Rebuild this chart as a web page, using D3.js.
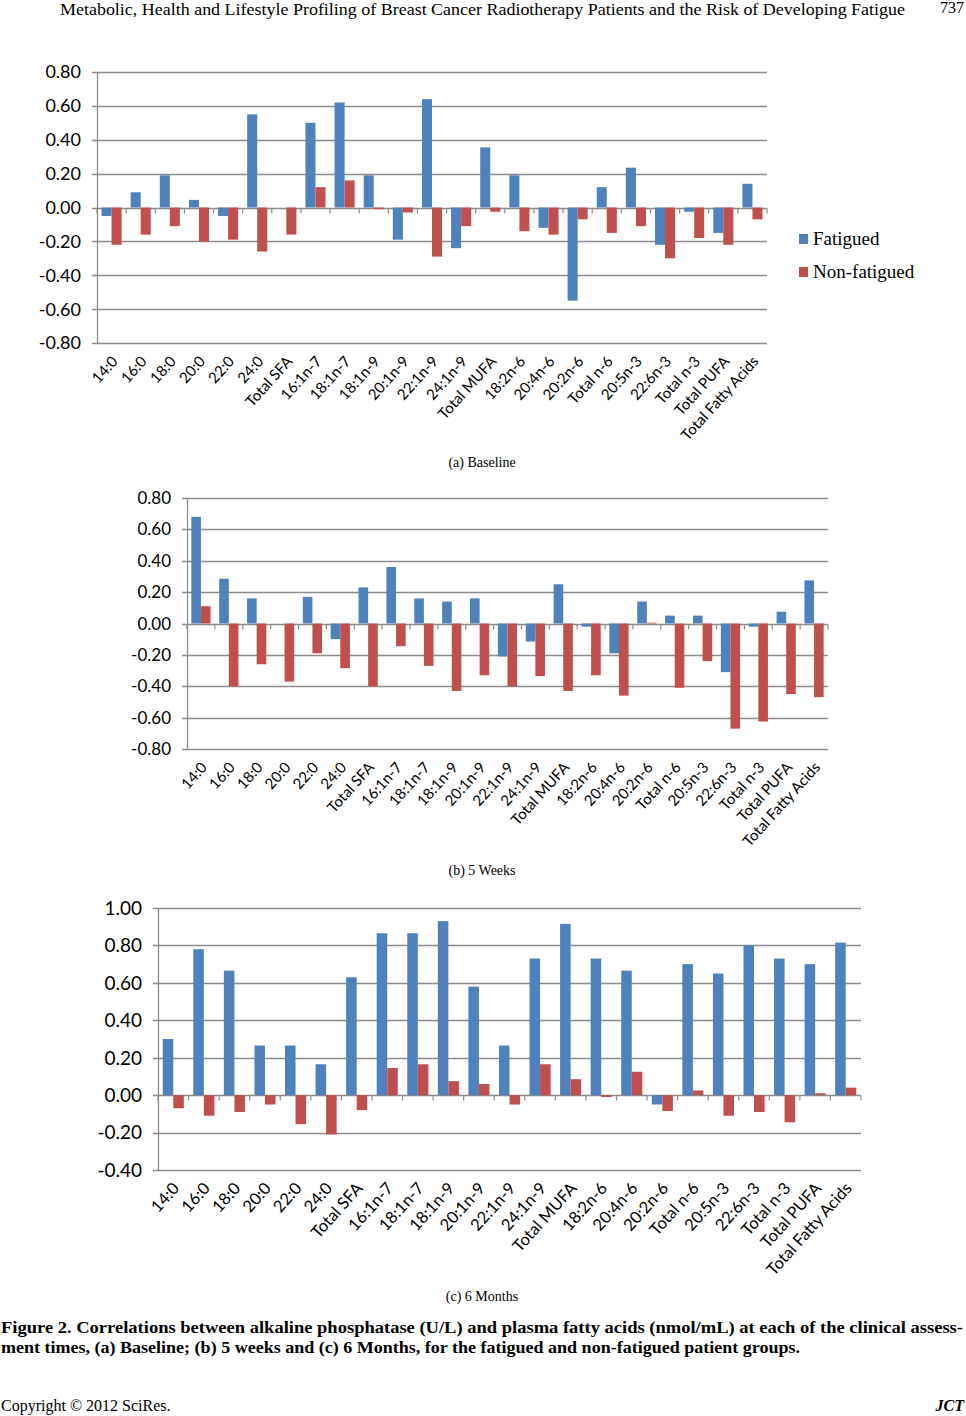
<!DOCTYPE html>
<html>
<head>
<meta charset="utf-8">
<script src="https://cdn.jsdelivr.net/npm/d3@7"></script>
<style>
  body { margin: 0; background: #fff; }
  svg { display: block; }
</style>
</head>
<body>
<svg id="page" width="966" height="1416"></svg>
<script>
// Fatty acid categories (same for all three panels)
const categories = ["14:0", "16:0", "18:0", "20:0", "22:0", "24:0", "Total SFA",
  "16:1n-7", "18:1n-7", "18:1n-9", "20:1n-9", "22:1n-9", "24:1n-9", "Total MUFA",
  "18:2n-6", "20:4n-6", "20:2n-6", "Total n-6", "20:5n-3", "22:6n-3", "Total n-3",
  "Total PUFA", "Total Fatty Acids"];

// (a) Baseline
const baselineFatigued = [-0.05, 0.09, 0.19, 0.045, -0.05, 0.55, 0, 0.50, 0.62, 0.19, -0.19, 0.64,
  -0.24, 0.355, 0.19, -0.12, -0.55, 0.12, 0.235, -0.22, -0.025, -0.15, 0.14];
const baselineNonFatigued = [-0.22, -0.16, -0.11, -0.20, -0.19, -0.26, -0.16, 0.12, 0.16, -0.01, -0.03, -0.29,
  -0.11, -0.025, -0.14, -0.16, -0.07, -0.15, -0.11, -0.30, -0.18, -0.22, -0.07];

// (b) 5 Weeks
const weeks5Fatigued = [0.68, 0.285, 0.16, 0, 0.17, -0.10, 0.23, 0.36, 0.16, 0.14, 0.16, -0.21,
  -0.115, 0.25, -0.02, -0.19, 0.14, 0.05, 0.05, -0.31, -0.02, 0.075, 0.275];
const weeks5NonFatigued = [0.11, -0.40, -0.26, -0.37, -0.19, -0.285, -0.40, -0.145, -0.27, -0.43, -0.33, -0.40,
  -0.335, -0.43, -0.33, -0.46, 0.005, -0.41, -0.24, -0.67, -0.625, -0.45, -0.47];

// (c) 6 Months
const months6Fatigued = [0.30, 0.78, 0.665, 0.265, 0.265, 0.165, 0.63, 0.865, 0.865, 0.93, 0.58, 0.265,
  0.73, 0.915, 0.73, 0.665, -0.05, 0.70, 0.65, 0.80, 0.73, 0.70, 0.815];
const months6NonFatigued = [-0.07, -0.11, -0.09, -0.05, -0.155, -0.21, -0.08, 0.145, 0.165, 0.075, 0.06, -0.05,
  0.165, 0.085, -0.01, 0.125, -0.085, 0.025, -0.11, -0.09, -0.145, 0.01, 0.04];

const ticksAB = [-0.8, -0.6, -0.4, -0.2, 0, 0.2, 0.4, 0.6, 0.8];
const ticksC = [-0.4, -0.2, 0, 0.2, 0.4, 0.6, 0.8, 1.0];
const seriesNames = ["Fatigued", "Non-fatigued"];
const colors = ["#4F81BD", "#C0504D"];

const svg = d3.select("#page");
const sans = "Lato, 'Open Sans', sans-serif";
const serif = "'Liberation Serif', 'Times New Roman', serif";

function drawPanel(box, fatigued, nonFatigued, ticks, tickFont, labelFont) {
  const g = svg.append("g");

  const x = d3.scaleBand()
    .domain(categories)
    .range([box.left, box.right]);

  const inner = d3.scaleBand()
    .domain(seriesNames)
    .range([0, x.bandwidth()])
    .paddingInner(0)
    .paddingOuter(0.45);

  const y = d3.scaleLinear()
    .domain(d3.extent(ticks))
    .range([box.bottom, box.top]);

  // gridlines
  g.selectAll(".grid")
    .data(ticks)
    .enter().append("line")
    .attr("x1", box.left - 5)
    .attr("x2", box.right)
    .attr("y1", d => Math.round(y(d)) + 0.5)
    .attr("y2", d => Math.round(y(d)) + 0.5)
    .attr("stroke", "#8c8c8c")
    .attr("stroke-width", 1.3);

  // y tick labels
  g.selectAll(".ylab")
    .data(ticks)
    .enter().append("text")
    .attr("x", box.left - 16)
    .attr("y", d => y(d))
    .attr("dy", "0.36em")
    .attr("text-anchor", "end")
    .attr("font-family", sans)
    .attr("font-size", tickFont + "px")
    .attr("fill", "#000")
    .text(d => d.toFixed(2));

  // bars
  const rows = categories.map((c, i) => [
    { cat: c, s: seriesNames[0], v: fatigued[i] },
    { cat: c, s: seriesNames[1], v: nonFatigued[i] }
  ]).flat();

  g.selectAll(".bar")
    .data(rows)
    .enter().append("rect")
    .attr("x", d => x(d.cat) + inner(d.s))
    .attr("width", inner.bandwidth())
    .attr("y", d => Math.min(y(d.v), y(0)))
    .attr("height", d => Math.abs(y(d.v) - y(0)))
    .attr("fill", (d, i) => colors[i % 2]);

  // y axis line
  g.append("line")
    .attr("x1", box.left + 0.5).attr("x2", box.left + 0.5)
    .attr("y1", box.top).attr("y2", box.bottom)
    .attr("stroke", "#8c8c8c")
    .attr("stroke-width", 1.3);

  // category boundary ticks on the zero line
  const y0 = Math.round(y(0)) + 0.5;
  g.selectAll(".xtick")
    .data(d3.range(categories.length + 1))
    .enter().append("line")
    .attr("x1", i => box.left + i * x.step())
    .attr("x2", i => box.left + i * x.step())
    .attr("y1", y0)
    .attr("y2", y0 + 5)
    .attr("stroke", "#8c8c8c")
    .attr("stroke-width", 1.2);

  // rotated category labels
  g.selectAll(".xlab")
    .data(categories)
    .enter().append("text")
    .attr("transform", d => `translate(${x(d) + x.bandwidth() / 2 + 7}, ${box.bottom + 19}) rotate(-48)`)
    .attr("text-anchor", "end")
    .attr("font-family", sans)
    .attr("font-size", labelFont + "px")
    .attr("fill", "#000")
    .text(d => d);
}

drawPanel({ left: 97, right: 767, top: 72, bottom: 343 }, baselineFatigued, baselineNonFatigued, ticksAB, 18, 15);
drawPanel({ left: 187, right: 828, top: 498, bottom: 749 }, weeks5Fatigued, weeks5NonFatigued, ticksAB, 17, 15);
drawPanel({ left: 158, right: 861, top: 908, bottom: 1170 }, months6Fatigued, months6NonFatigued, ticksC, 19, 16.5);

// legend (panel a)
const legend = svg.append("g");
seriesNames.forEach((name, i) => {
  legend.append("rect")
    .attr("x", 799).attr("y", 234 + i * 33)
    .attr("width", 9).attr("height", 10)
    .attr("fill", colors[i]);
  legend.append("text")
    .attr("x", 813).attr("y", 245 + i * 33)
    .attr("font-family", serif)
    .attr("font-size", "19px")
    .text(name);
});

// running header
svg.append("text")
  .attr("x", 60).attr("y", 15)
  .attr("font-family", serif).attr("font-size", "17px")
  .attr("textLength", 845).attr("lengthAdjust", "spacingAndGlyphs")
  .text("Metabolic, Health and Lifestyle Profiling of Breast Cancer Radiotherapy Patients and the Risk of Developing Fatigue");
svg.append("text")
  .attr("x", 964).attr("y", 13)
  .attr("text-anchor", "end")
  .attr("font-family", serif).attr("font-size", "16px")
  .text("737");

// panel captions
[["(a) Baseline", 467], ["(b) 5 Weeks", 875], ["(c) 6 Months", 1301]].forEach(([t, yy]) => {
  svg.append("text")
    .attr("x", 482).attr("y", yy)
    .attr("text-anchor", "middle")
    .attr("font-family", serif).attr("font-size", "14px")
    .text(t);
});

// figure caption
svg.append("text")
  .attr("x", 1).attr("y", 1333)
  .attr("font-family", serif).attr("font-size", "16px").attr("font-weight", "bold")
  .attr("textLength", 962).attr("lengthAdjust", "spacingAndGlyphs")
  .text("Figure 2. Correlations between alkaline phosphatase (U/L) and plasma fatty acids (nmol/mL) at each of the clinical assess-");
svg.append("text")
  .attr("x", 1).attr("y", 1353)
  .attr("font-family", serif).attr("font-size", "16px").attr("font-weight", "bold")
  .attr("textLength", 799).attr("lengthAdjust", "spacingAndGlyphs")
  .text("ment times, (a) Baseline; (b) 5 weeks and (c) 6 Months, for the fatigued and non-fatigued patient groups.");

// footer
svg.append("text")
  .attr("x", 1).attr("y", 1411)
  .attr("font-family", serif).attr("font-size", "16px")
  .text("Copyright © 2012 SciRes.");
svg.append("text")
  .attr("x", 964).attr("y", 1411)
  .attr("text-anchor", "end")
  .attr("font-family", serif).attr("font-size", "16px")
  .attr("font-weight", "bold").attr("font-style", "italic")
  .text("JCT");
</script>
</body>
</html>
